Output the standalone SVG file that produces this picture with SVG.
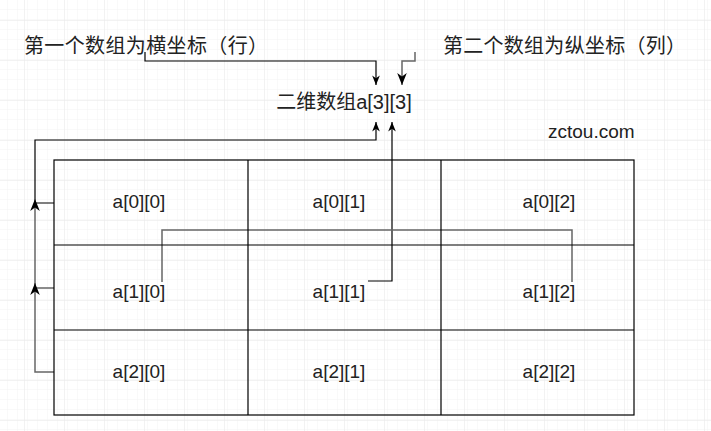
<svg xmlns="http://www.w3.org/2000/svg" width="711" height="431" viewBox="0 0 711 431">
<defs>
<pattern id="g" width="10" height="10" patternUnits="userSpaceOnUse" x="4" y="0"><path d="M10 0V10M0 10H10" fill="none" stroke="#f3f3f3" stroke-width="1"/></pattern>
<pattern id="G" width="40" height="40" patternUnits="userSpaceOnUse" x="24" y="20"><rect width="40" height="40" fill="url(#g)"/><path d="M0 0V40M0 0H40" fill="none" stroke="#e6e6e6" stroke-width="1"/></pattern>
<marker id="a" viewBox="0 0 10 10" refX="10" refY="5" markerWidth="8" markerHeight="8" orient="auto"><path d="M0 1L10 5L0 9L3 5Z" fill="#000"/></marker>
</defs>
<style>
text{font-family:"Liberation Sans","Noto Sans CJK SC",sans-serif;font-size:19px;fill:#222}
.z{font-size:20px}
.c{text-anchor:middle}
.l{fill:none;stroke:#000;stroke-width:1.2}
.gl{fill:none;stroke:#666;stroke-width:1.5}
rect.cell{fill:none;stroke:#000;stroke-width:1.2}
</style>
<rect width="711" height="431" fill="#fff"/>
<rect width="711" height="431" fill="url(#G)"/>
<g id="connectors">
<path class="l" d="M145 52V61H376V85" marker-end="url(#a)"/>
<path class="gl" d="M415 52V61H402V85" marker-end="url(#a)"/>
<path class="l" d="M54 203H35V140H376V122" marker-end="url(#a)"/>
<path class="gl" d="M54 288H35V199" marker-end="url(#a)"/>
<path class="gl" d="M54 372H35V283" marker-end="url(#a)"/>
<path class="l" d="M368 281H392V122" marker-end="url(#a)"/>
<path class="gl" d="M162 282V230H572V282"/>
</g>
<g id="label1"><text class="z" x="24" y="53" textLength="244">第一个数组为横坐标（行）</text></g>
<g id="label2"><text class="z" x="443" y="53" textLength="243">第二个数组为纵坐标（列）</text></g>
<g id="title"><text class="c z" x="344" y="109">二维数组a[3][3]</text></g>
<g id="site"><text x="548" y="138">zctou.com</text></g>
<g id="table">
<rect class="cell" x="54" y="160" width="580" height="255"/>
<path class="l" d="M248 160V415M441 160V415M54 245H634M54 330H634"/>
<text class="c" x="139" y="208">a[0][0]</text><text class="c" x="339" y="208">a[0][1]</text><text class="c" x="549" y="208">a[0][2]</text>
<text class="c" x="139" y="298">a[1][0]</text><text class="c" x="339" y="298">a[1][1]</text><text class="c" x="549" y="298">a[1][2]</text>
<text class="c" x="139" y="378">a[2][0]</text><text class="c" x="339" y="378">a[2][1]</text><text class="c" x="549" y="378">a[2][2]</text>
</g>
</svg>
